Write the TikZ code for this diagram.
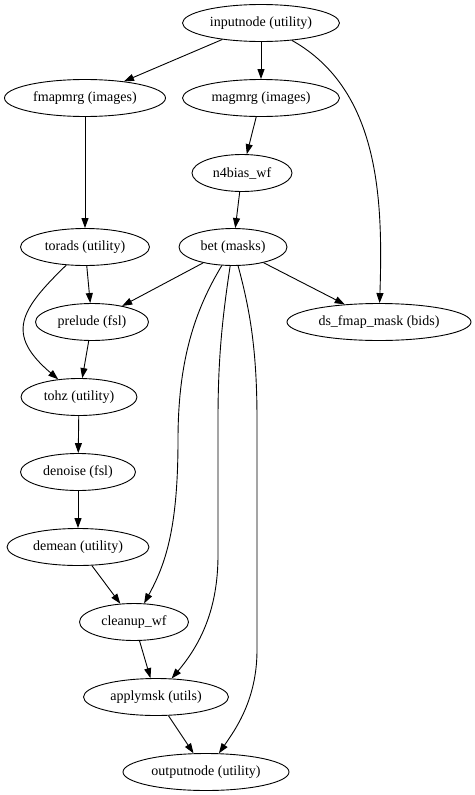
\documentclass[tikz,border=0pt]{standalone}
\usepackage{fontspec}
\setmainfont{Liberation Serif}
\usetikzlibrary{shapes.geometric,arrows.meta}

\begin{document}
\begin{tikzpicture}[x = 1pt, y = -1pt,
    every node/.style = { draw, line width = .9pt, shape = ellipse, font = \fontsize{14}{16}\selectfont,
      minimum height = 37pt, inner sep = 0pt },
    link/.style = { line width = .9pt, -{Triangle[length = 10pt, width = 7pt]} }]
      \useasboundingbox (0,0) rectangle (474,795);

      \node [minimum width = 157pt] (inputnode) at (261,23) { inputnode (utility) };
      \node [minimum width = 161pt] (fmapmrg) at (85,98) { fmapmrg (images) };
      \node [minimum width = 157pt] (magmrg) at (261,98) { magmrg (images) };
      \node [minimum width = 100pt] (n4bias) at (242,173) { n4bias\_wf };
      \node [minimum width = 129pt] (torads) at (85,247) { torads (utility) };
      \node [minimum width = 108pt] (bet) at (233,247) { bet (masks) };
      \node [minimum width = 113pt] (prelude) at (92,322) { prelude (fsl) };
      \node [minimum width = 184pt] (dsmask) at (379,322) { ds\_fmap\_mask (bids) };
      \node [minimum width = 116pt] (tohz) at (79,397) { tohz (utility) };
      \node [minimum width = 115pt] (denoise) at (78,472) { denoise (fsl) };
      \node [minimum width = 142pt] (demean) at (78,547) { demean (utility) };
      \node [minimum width = 109pt] (cleanup) at (134,622) { cleanup\_wf };
      \node [minimum width = 145pt] (applymsk) at (156,697) { applymsk (utils) };
      \node [minimum width = 166pt] (outputnode) at (206,772) { outputnode (utility) };

      \draw [link] (inputnode) -- (fmapmrg);
      \draw [link] (inputnode) -- (magmrg);
      \draw [link] (inputnode) .. controls (380,90) and (383,200) .. (dsmask);
      \draw [link] (fmapmrg) -- (torads);
      \draw [link] (magmrg) -- (n4bias);
      \draw [link] (n4bias) -- (bet);
      \draw [link] (torads) -- (prelude);
      \draw [link] (torads) .. controls (20,310) and (5,334) .. (tohz);
      \draw [link] (bet) -- (prelude);
      \draw [link] (bet) -- (dsmask);
      \draw [link] (bet) .. controls (195,310) and (178,360) .. (178,440)
        .. controls (178,530) and (165,565) .. (cleanup);
      \draw [link] (bet) .. controls (222,320) and (218,360) .. (218,420) -- (218,555)
        .. controls (218,610) and (200,645) .. (applymsk);
      \draw [link] (bet) .. controls (250,310) and (257,350) .. (257,420) -- (257,650)
        .. controls (257,700) and (235,730) .. (outputnode);
      \draw [link] (prelude) -- (tohz);
      \draw [link] (tohz) -- (denoise);
      \draw [link] (denoise) -- (demean);
      \draw [link] (demean) -- (cleanup);
      \draw [link] (cleanup) -- (applymsk);
      \draw [link] (applymsk) -- (outputnode);

    \end{tikzpicture}
\end{document}
